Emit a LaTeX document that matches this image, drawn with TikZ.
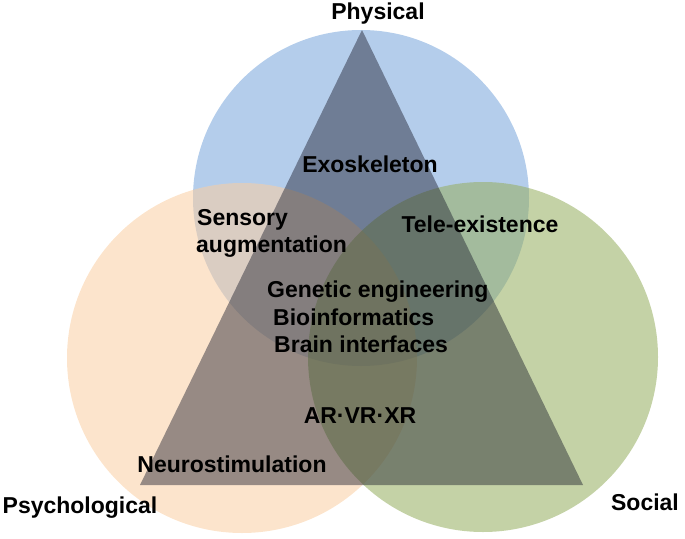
\documentclass[tikz,border=0pt]{standalone}
\usepackage{fontspec}
\setmainfont{Liberation Sans}
\definecolor{physblue}{RGB}{119,164,219}
\definecolor{psyorange}{RGB}{250,206,162}
\definecolor{socgreen}{RGB}{148,173,93}
\definecolor{tridark}{RGB}{28,30,44}

\begin{document}
\begin{tikzpicture}[x=1pt, y=-1pt, every node/.style={font=\fontsize{23}{27}\selectfont\bfseries, inner sep=0pt}, lbl/.style={anchor=base}, lblw/.style={anchor=base west}]
	\useasboundingbox (0,0) rectangle (685,538);
	\fill[physblue, fill opacity=0.55] (361,198) circle[radius=168pt];
	\fill[psyorange, fill opacity=0.55] (242,358) circle[radius=175pt];
	\fill[socgreen, fill opacity=0.55] (483,357) circle[radius=175pt];
	\fill[tridark, fill opacity=0.45] (362,30) -- (140,485) -- (583,485) -- cycle;
	\node[lbl] (physical) at (378,19) {Physical};
	\node[lbl] (psychological) at (80,513) {Psychological};
	\node[lbl] (social) at (645,510) {Social};
	\node[lbl] (exo) at (370,172) {Exoskeleton};
	\node[lblw] (sensory) at (197,225) {Sensory};
	\node[lblw] (augment) at (196,252) {augmentation};
	\node[lbl] (tele) at (480,232) {Tele-existence};
	\node[lblw] (genetic) at (267,297) {Genetic engineering};
	\node[lblw] (bioinf) at (273,325) {Bioinformatics};
	\node[lblw] (brain) at (274,352) {Brain interfaces};
	\node[lbl] (xr) at (360,423) {AR·VR·XR};
	\node[lbl] (neuro) at (232,472) {Neurostimulation};
\end{tikzpicture}
\end{document}
